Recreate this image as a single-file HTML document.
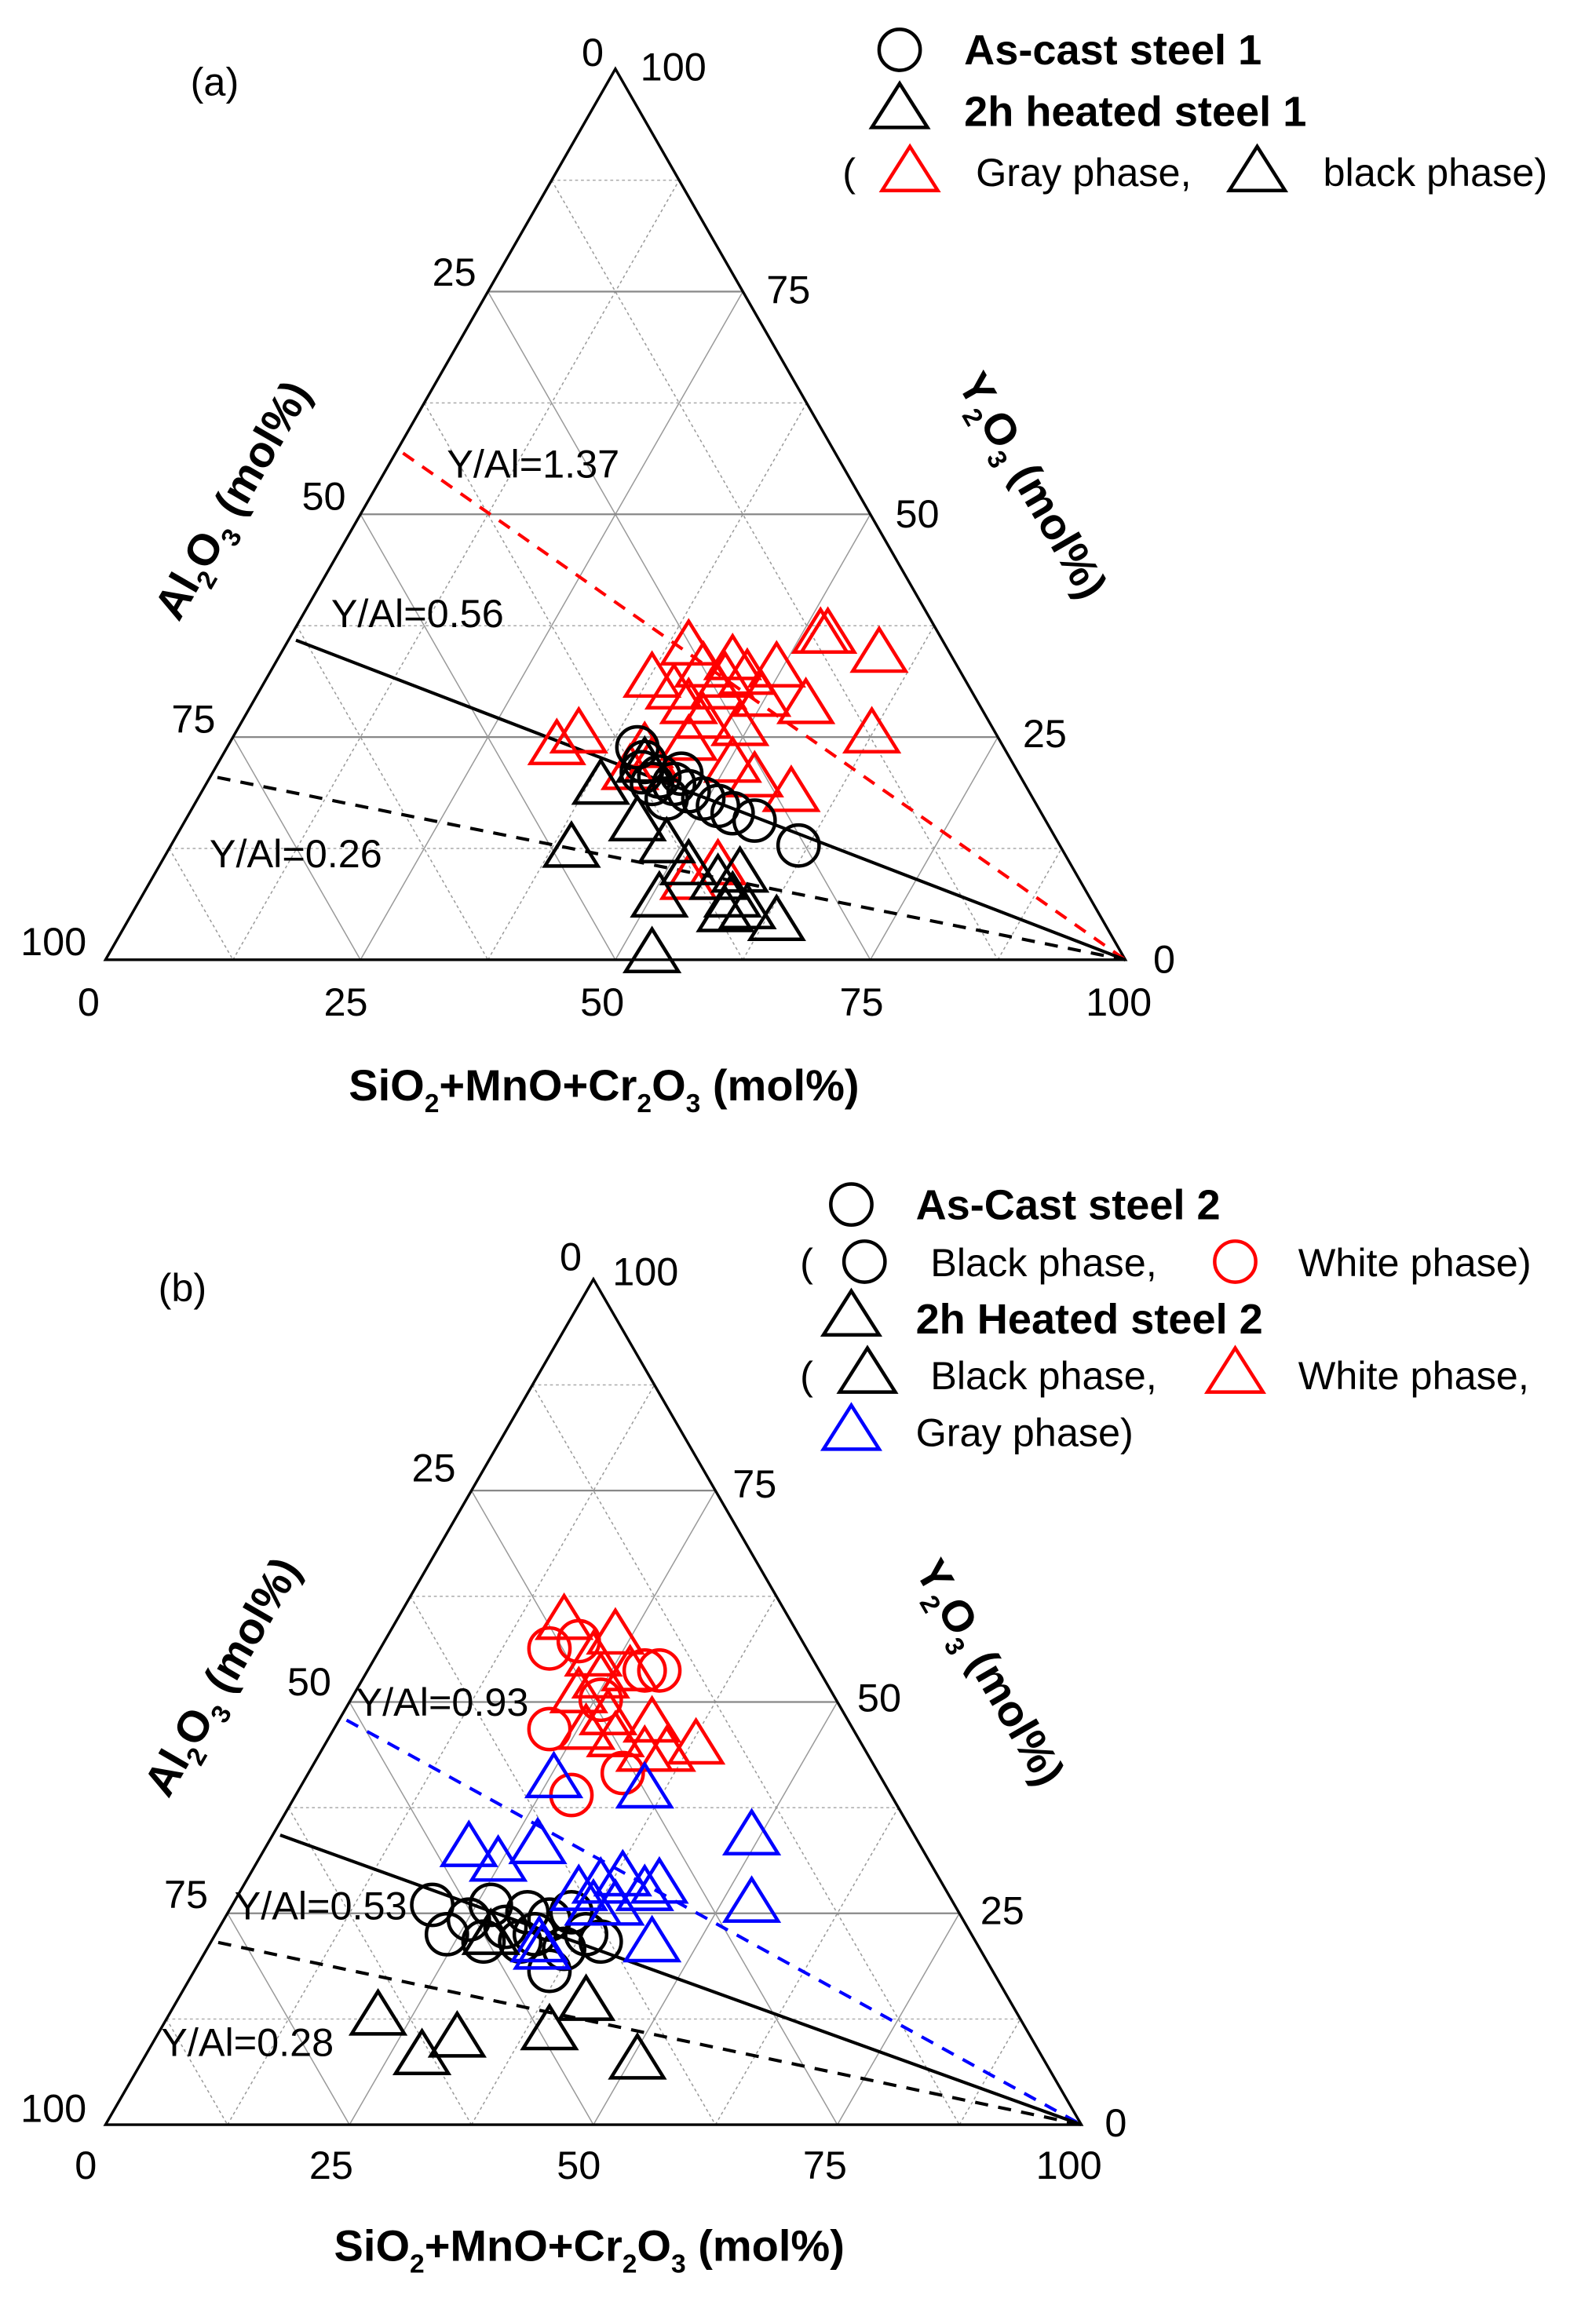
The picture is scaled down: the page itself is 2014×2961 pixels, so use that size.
<!DOCTYPE html>
<html><head><meta charset="utf-8"><style>
html,body{margin:0;padding:0;background:#fff}
svg{display:block}
text{font-family:"Liberation Sans",Arial,sans-serif;fill:#000}
</style></head><body>
<svg width="2014" height="2961" viewBox="0 0 1079 1586" preserveAspectRatio="none" xmlns="http://www.w3.org/2000/svg">
<defs>
<path id="tri" d="M0,-16 L18,13 L-18,13 Z" fill="none" stroke-width="2.4"/>
<path id="ltri" d="M0,-17 L19,13 L-19,13 Z" fill="none" stroke-width="2.4"/>
</defs>
<rect width="1079" height="1586" fill="#fff"/>
<g id="A"></g>
<g id="B"></g>
<script><![CDATA[
var NS="http://www.w3.org/2000/svg";
function el(p,t,a,txt){var e=document.createElementNS(NS,t);for(var k in a)e.setAttribute(k,a[k]);if(txt!==undefined)e.textContent=txt;p.appendChild(e);return e;}
function panel(g,ap,bl,br){
 function P(al,y,s){return [al*bl[0]+y*ap[0]+s*br[0], al*bl[1]+y*ap[1]+s*br[1]];}
 for(var i=1;i<8;i++){var f=i/8;var major=(i%2==0);
  var dash=major?"":"2,2";
  var a=P(1-f,f,0),b=P(0,f,1-f);
  el(g,"line",{x1:a[0],y1:a[1],x2:b[0],y2:b[1],stroke:major?"#888":"#aaa","stroke-width":major?1.2:0.8,"stroke-dasharray":dash});
  a=P(1-f,0,f);b=P(0,1-f,f);
  el(g,"line",{x1:a[0],y1:a[1],x2:b[0],y2:b[1],stroke:"#999","stroke-width":0.8,"stroke-dasharray":dash});
  a=P(f,1-f,0);b=P(f,0,1-f);
  el(g,"line",{x1:a[0],y1:a[1],x2:b[0],y2:b[1],stroke:"#999","stroke-width":0.8,"stroke-dasharray":dash});
 }
 el(g,"path",{d:"M"+ap+" L"+bl+" L"+br+" Z",fill:"none",stroke:"#000","stroke-width":1.8});
 return P;
}
function ratioLine(g,P,y,col,dash){var a=P(1-y,y,0);a=[a[0]+4,a[1]+2];var b=P(0,0,1);
 el(g,"line",{x1:a[0],y1:a[1],x2:b[0],y2:b[1],stroke:col,"stroke-width":2.2,"stroke-dasharray":dash||""});}
function tri(g,x,y,c){el(g,"use",{href:"#tri",x:x,y:y,stroke:c});}
function cir(g,x,y,c){el(g,"circle",{cx:x,cy:y,r:14,fill:"none",stroke:c,"stroke-width":2.4});}
function T(g,x,y,s,size,extra){var a={x:x,y:y,"font-size":size||27};for(var k in extra)a[k]=extra[k];return el(g,"text",a,s);}

var gA=document.getElementById("A");
var PA=panel(gA,[420,47],[72,655],[768,655]);
ratioLine(gA,PA,0.572,"#f00","9,7");
ratioLine(gA,PA,0.362,"#000");
ratioLine(gA,PA,0.208,"#000","9,7");
[[470,440],[560,432],[600,445],[480,455],[500,450],[445,462],[530,455],[490,470],[510,460],[470,480],[520,475],[550,480],[480,490],[505,495],[395,500],[380,508],[595,500],[440,510],[470,505],[515,530],[540,540],[445,520],[430,525],[500,520],[470,600],[490,590],[565,432],[495,462],[460,470]].forEach(function(p){tri(gA,p[0],p[1],"#f00");});
[[435,510],[440,520],[450,530],[460,535],[470,540],[480,545],[490,550],[500,555],[515,560],[545,577],[445,535],[455,545],[438,527],[465,528]].forEach(function(p){cir(gA,p[0],p[1],"#000");});
[[410,535],[390,578],[435,560],[455,575],[470,590],[450,612],[490,600],[500,612],[510,620],[495,622],[530,628],[445,650],[505,595],[440,520]].forEach(function(p){tri(gA,p[0],p[1],"#000");});
T(gA,130,65,"(a)",27);
T(gA,397,45,"0");T(gA,295,195,"25");T(gA,206,348,"50");T(gA,117,500,"75");T(gA,14,652,"100");
T(gA,437,55,"100");T(gA,523,207,"75");T(gA,611,360,"50");T(gA,698,510,"25");T(gA,787,664,"0");
T(gA,53,693,"0");T(gA,221,693,"25");T(gA,396,693,"50");T(gA,573,693,"75");T(gA,741,693,"100");
T(gA,305,326,"Y/Al=1.37");T(gA,226,428,"Y/Al=0.56");T(gA,143,592,"Y/Al=0.26");
cir(gA,614,34,"#000");el(gA,"use",{href:"#ltri",x:614,y:74,stroke:"#000"});
T(gA,658,44,"As-cast steel 1",29,{"font-weight":"bold"});
T(gA,658,86,"2h heated steel 1",29,{"font-weight":"bold"});
T(gA,575,127,"(");el(gA,"use",{href:"#ltri",x:621,y:117,stroke:"#f00"});T(gA,666,127,"Gray phase,");
el(gA,"use",{href:"#ltri",x:858,y:117,stroke:"#000"});T(gA,903,127,"black phase)");

var gB=document.getElementById("B");
var PB=panel(gB,[405,873],[72,1450],[738,1450]);
ratioLine(gB,PB,0.482,"#00f","9,7");
ratioLine(gB,PB,0.346,"#000");
ratioLine(gB,PB,0.219,"#000","9,7");
[[375,1125],[440,1140],[450,1140],[375,1180],[425,1210],[390,1225],[410,1160],[395,1120]].forEach(function(p){cir(gB,p[0],p[1],"#f00");});
[[385,1105],[420,1115],[405,1130],[430,1140],[395,1155],[415,1170],[445,1175],[475,1190],[420,1185],[440,1195],[400,1180],[410,1145],[455,1195]].forEach(function(p){tri(gB,p[0],p[1],"#f00");});
[[295,1300],[305,1320],[320,1310],[335,1300],[345,1315],[355,1325],[365,1320],[375,1310],[385,1330],[400,1320],[410,1325],[375,1345],[330,1325],[360,1305],[390,1305]].forEach(function(p){cir(gB,p[0],p[1],"#000");});
[[378,1213],[440,1220],[320,1260],[340,1270],[367,1258],[513,1252],[513,1298],[395,1290],[410,1285],[425,1280],[440,1290],[450,1285],[405,1300],[420,1300],[445,1325],[370,1330],[368,1325]].forEach(function(p){tri(gB,p[0],p[1],"#00f");});
[[258,1375],[288,1402],[312,1390],[375,1385],[400,1365],[435,1405],[335,1320]].forEach(function(p){tri(gB,p[0],p[1],"#000");});
T(gB,108,888,"(b)",27);
T(gB,382,867,"0");T(gB,281,1011,"25");T(gB,196,1157,"50");T(gB,112,1302,"75");T(gB,14,1448,"100");
T(gB,418,877,"100");T(gB,500,1022,"75");T(gB,585,1168,"50");T(gB,669,1313,"25");T(gB,754,1458,"0");
T(gB,51,1487,"0");T(gB,211,1487,"25");T(gB,380,1487,"50");T(gB,548,1487,"75");T(gB,707,1487,"100");
T(gB,243,1171,"Y/Al=0.93");T(gB,160,1310,"Y/Al=0.53");T(gB,110,1403,"Y/Al=0.28");
cir(gB,581,822,"#000");
T(gB,625,832,"As-Cast steel 2",29,{"font-weight":"bold"});
T(gB,546,871,"(");cir(gB,590,861,"#000");T(gB,635,871,"Black phase,");cir(gB,843,861,"#f00");T(gB,886,871,"White phase)");
el(gB,"use",{href:"#ltri",x:581,y:898,stroke:"#000"});
T(gB,625,910,"2h Heated steel 2",29,{"font-weight":"bold"});
T(gB,546,948,"(");el(gB,"use",{href:"#ltri",x:592,y:937,stroke:"#000"});T(gB,635,948,"Black phase,");
el(gB,"use",{href:"#ltri",x:843,y:937,stroke:"#f00"});T(gB,886,948,"White phase,");
el(gB,"use",{href:"#ltri",x:581,y:976,stroke:"#00f"});T(gB,625,987,"Gray phase)");
]]></script>
<g font-family="Liberation Sans, Arial, sans-serif" font-weight="bold" font-size="30">
<text x="238" y="751">SiO<tspan font-size="18" dy="8">2</tspan><tspan dy="-8">+MnO+Cr</tspan><tspan font-size="18" dy="8">2</tspan><tspan dy="-8">O</tspan><tspan font-size="18" dy="8">3</tspan><tspan dy="-8"> (mol%)</tspan></text>
<text x="228" y="1543">SiO<tspan font-size="18" dy="8">2</tspan><tspan dy="-8">+MnO+Cr</tspan><tspan font-size="18" dy="8">2</tspan><tspan dy="-8">O</tspan><tspan font-size="18" dy="8">3</tspan><tspan dy="-8"> (mol%)</tspan></text>
<text transform="translate(122,425) rotate(-60)">Al<tspan font-size="18" dy="8">2</tspan><tspan dy="-8">O</tspan><tspan font-size="18" dy="8">3</tspan><tspan dy="-8"> (mol%)</tspan></text>
<text transform="translate(653,262) rotate(60)">Y<tspan font-size="18" dy="8">2</tspan><tspan dy="-8">O</tspan><tspan font-size="18" dy="8">3</tspan><tspan dy="-8"> (mol%)</tspan></text>
<text transform="translate(115,1228) rotate(-60)">Al<tspan font-size="18" dy="8">2</tspan><tspan dy="-8">O</tspan><tspan font-size="18" dy="8">3</tspan><tspan dy="-8"> (mol%)</tspan></text>
<text transform="translate(624,1072) rotate(60)">Y<tspan font-size="18" dy="8">2</tspan><tspan dy="-8">O</tspan><tspan font-size="18" dy="8">3</tspan><tspan dy="-8"> (mol%)</tspan></text>
</g>
</svg>
</body></html>
